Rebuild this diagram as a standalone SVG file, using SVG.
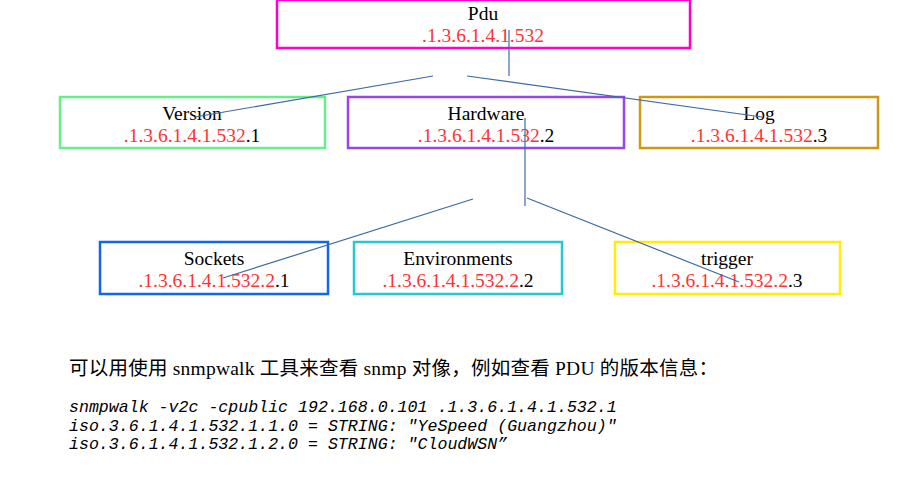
<svg xmlns="http://www.w3.org/2000/svg" width="907" height="477" viewBox="0 0 907 477">
<style>
.b{fill:#fff;stroke-width:2.5}
.t{font-family:"Liberation Serif",serif;font-size:19.5px;text-anchor:middle;fill:#000}
.r{fill:#ff3333}
.c{stroke:#3a6aa8;stroke-width:1.2;fill:none}
.m{font-family:"Liberation Mono",monospace;font-style:italic;font-size:16.6px;fill:#000}
.z{font-family:"Liberation Serif","Noto Sans CJK SC",serif;font-size:19.5px;fill:#000}
</style>
<rect width="907" height="477" fill="#fff"/>
<g id="pdu"><rect class="b" x="277" y="0" width="413" height="48" stroke="#ff00cc"/><text class="t" x="483" y="20">Pdu</text><text class="t r" x="483" y="42">.1.3.6.1.4.1.532</text></g>
<g id="version"><rect class="b" x="60" y="97" width="265" height="51" stroke="#66ee88"/><text class="t" x="192" y="120">Version</text><text class="t" x="192" y="142"><tspan class="r">.1.3.6.1.4.1.532</tspan>.1</text></g>
<g id="hardware"><rect class="b" x="348" y="97" width="276" height="51" stroke="#9944ee"/><text class="t" x="486" y="120">Hardware</text><text class="t" x="486" y="142"><tspan class="r">.1.3.6.1.4.1.532</tspan>.2</text></g>
<g id="log"><rect class="b" x="640" y="97" width="238" height="51" stroke="#cc9911"/><text class="t" x="759" y="120">Log</text><text class="t" x="759" y="142"><tspan class="r">.1.3.6.1.4.1.532</tspan>.3</text></g>
<g id="sockets"><rect class="b" x="100" y="242" width="228" height="52" stroke="#1166ee"/><text class="t" x="214" y="265">Sockets</text><text class="t" x="214" y="287"><tspan class="r">.1.3.6.1.4.1.532.2</tspan>.1</text></g>
<g id="environments"><rect class="b" x="354" y="242" width="208" height="52" stroke="#22cccc"/><text class="t" x="458" y="265">Environments</text><text class="t" x="458" y="287"><tspan class="r">.1.3.6.1.4.1.532.2</tspan>.2</text></g>
<g id="trigger"><rect class="b" x="615" y="242" width="225" height="52" stroke="#ffee00"/><text class="t" x="727" y="265">trigger</text><text class="t" x="727" y="287"><tspan class="r">.1.3.6.1.4.1.532.2</tspan>.3</text></g>
<g id="connectors">
<line class="c" x1="509" y1="30" x2="509" y2="76"/>
<line class="c" x1="433" y1="76" x2="195" y2="117"/>
<line class="c" x1="467" y1="76" x2="762" y2="117"/>
<line class="c" x1="525" y1="118" x2="525" y2="206"/>
<line class="c" x1="473" y1="199" x2="223" y2="278"/>
<line class="c" x1="527" y1="198" x2="739" y2="282"/>
</g>
<text class="z" x="69" y="375" textLength="649">可以用使用 snmpwalk 工具来查看 snmp 对像，例如查看 PDU 的版本信息：</text>
<text class="m" x="69" y="412">snmpwalk -v2c -cpublic 192.168.0.101 .1.3.6.1.4.1.532.1</text>
<text class="m" x="69" y="431">iso.3.6.1.4.1.532.1.1.0 = STRING: "YeSpeed (Guangzhou)"</text>
<text class="m" x="69" y="449">iso.3.6.1.4.1.532.1.2.0 = STRING: "CloudWSN”</text>
</svg>
